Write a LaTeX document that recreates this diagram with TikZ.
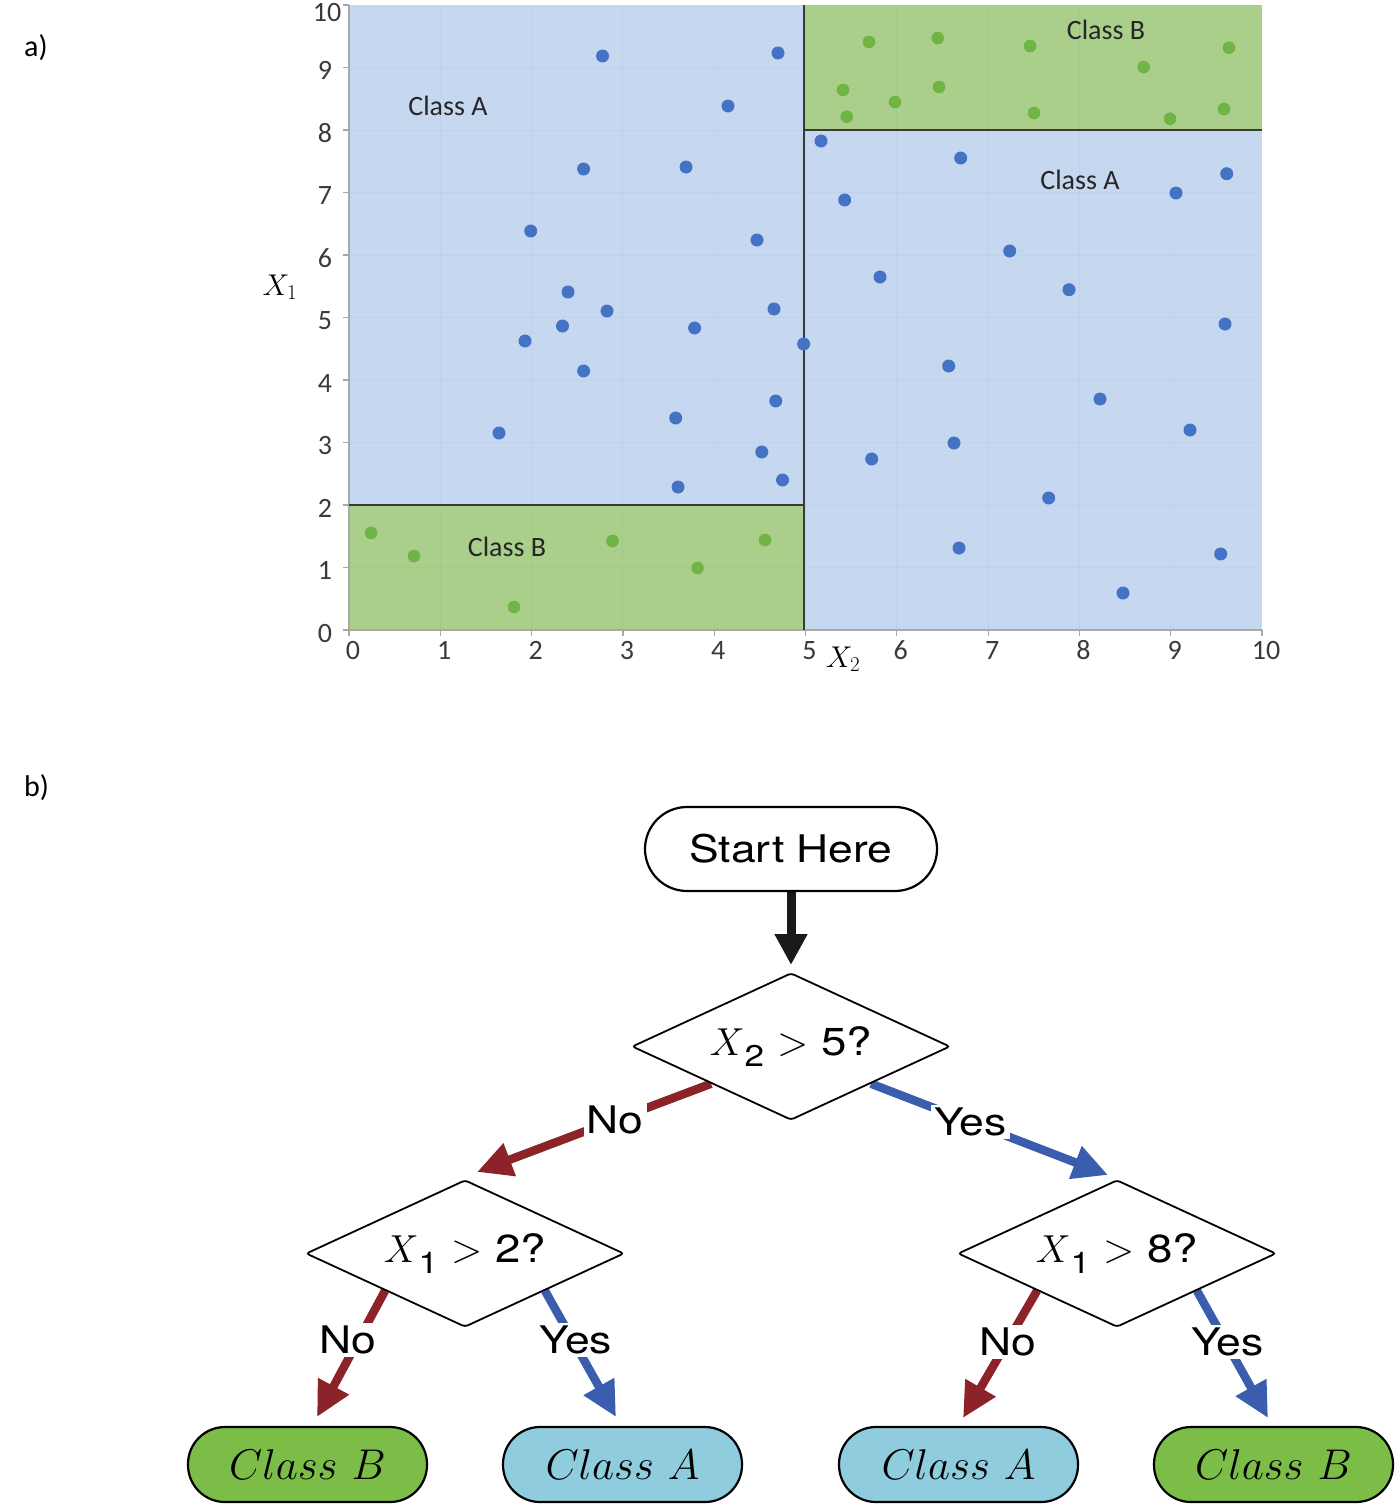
\documentclass[tikz,border=0pt]{standalone}
\usepackage{fix-cm}
\usepackage[no-math]{fontspec}
\setmainfont[FakeStretch=1.17]{TeX Gyre Heros}
\newfontfamily\plotfont{Carlito}
\usetikzlibrary{shapes.geometric,arrows.meta,backgrounds}
\definecolor{bluefill}{HTML}{C5D8EF}
\definecolor{greenfill}{HTML}{A9CF8A}
\definecolor{bluedot}{HTML}{4472C4}
\definecolor{greendot}{HTML}{70B446}
\definecolor{divline}{HTML}{3A3A3A}
\definecolor{axisgray}{HTML}{A8A8A8}
\definecolor{ticktext}{HTML}{3A3A3A}
\definecolor{treered}{HTML}{8B2329}
\definecolor{treeblue}{HTML}{3A5DAE}
\definecolor{leafgreen}{HTML}{7CBD48}
\definecolor{leafblue}{HTML}{8FCCDD}
\newcommand\mysub[1]{\raisebox{-11pt}{\fontsize{30}{32}\selectfont #1}}
\newcommand\mygt{\hspace{13pt}{\fontsize{41}{44}\selectfont$>$}\hspace{13pt}}
\begin{document}
\begin{tikzpicture}[x=1pt,y=-1pt,
  plottext/.style={font=\plotfont\fontsize{28}{32}\selectfont, text=ticktext, inner sep=0pt},
  regiontext/.style={font=\plotfont\fontsize{28}{32}\selectfont, text=black!85, inner sep=0pt},
  paneltext/.style={font=\plotfont\fontsize{30}{34}\selectfont, text=black, inner sep=0pt},
  startbox/.style={draw=black, line width=2.2pt, fill=white, rounded corners=42pt,
     minimum width=292pt, minimum height=84pt, inner sep=0pt,
     font=\fontsize{38}{44}\selectfont},
  dia/.style={shape=diamond, aspect=2.16, draw=black, line width=1.8pt, fill=white,
     minimum width=318pt, minimum height=147pt, inner sep=0pt, rounded corners=3pt,
     font=\fontsize{39}{44}\selectfont},
  leafbox/.style={draw=black, line width=2.2pt, rounded corners=37pt,
     minimum width=239pt, minimum height=75pt, inner sep=0pt,
     font=\fontsize{43}{50}\selectfont},
  leafA/.style={leafbox, fill=leafblue},
  leafB/.style={leafbox, fill=leafgreen},
  elab/.style={fill=white, inner sep=3pt, font=\fontsize{38}{44}\selectfont, text=black},
  redarrow/.style={draw=treered, line width=8.5pt, -{Triangle[length=35pt,width=33pt]}},
  bluearrow/.style={draw=treeblue, line width=8.5pt, -{Triangle[length=35pt,width=33pt]}},
  blackarrow/.style={draw=black!90, line width=9pt, -{Triangle[length=31pt,width=31pt]}}
]
\useasboundingbox (0,0) rectangle (1395,1504);

% ---------------- panel a ----------------
\node[paneltext, anchor=base west] (la) at (24,57) {a)};
\fill[bluefill] (349,5) rectangle (1262,630);
\fill[greenfill] (349,505) rectangle (804,630);
\fill[greenfill] (804,5) rectangle (1262,130);
% faint grid
\foreach \k in {1,...,9} {
  \draw[black, opacity=0.025, line width=1pt] ({349+91.3*\k},5) -- ({349+91.3*\k},630);
  \draw[black, opacity=0.025, line width=1pt] (349,{630-62.5*\k}) -- (1262,{630-62.5*\k});
}
% axes
\draw[axisgray, line width=1.5pt] (349,5) -- (349,630) -- (1262,630);
\foreach \k in {0,...,10} {
  \draw[axisgray, line width=1.2pt] (343,{630-62.5*\k}) -- (349,{630-62.5*\k});
  \draw[axisgray, line width=1.2pt] ({349+91.3*\k},630) -- ({349+91.3*\k},636);
  \node[plottext, anchor=base] at ({349+91.3*\k+4},659) {\k};
}
\foreach \k in {0,...,9} {
  \node[plottext, anchor=base] at (325,{630-62.5*\k+12}) {\k};
}
\node[plottext, anchor=base] at (327,22) {10};
% split lines
\draw[divline, line width=2pt] (804,5) -- (804,630);
\draw[divline, line width=2pt] (349,505) -- (804,505);
\draw[divline, line width=2pt] (804,130) -- (1262,130);
% points
\foreach \x/\y in {602.5/56, 778/53, 728/106, 583.6/169, 686/167, 530.7/231, 757/240,
  568/292, 607/311, 774/309, 562.5/326, 694.6/328, 525/341, 803.6/344, 583.6/371,
  499/433, 675.7/418, 775.7/401, 761.8/452, 678/487, 782.5/480,
  821/141, 960.7/158, 844.7/200, 1176/193, 1226.7/173.7, 1009.7/251, 880/277,
  1069/289.7, 1225/324, 948.7/366, 1100/399, 1190/430, 954/443, 871.7/459,
  1048.7/498, 959/548, 1220.7/554, 1123/593}
  \fill[bluedot] (\x,\y) circle[radius=6.5pt];
\foreach \x/\y in {371/533, 414/556, 514/607, 612.5/541, 697.5/568, 765/540,
  869/42, 937.7/38, 1030/46, 1229/47.7, 1143.7/67, 843/90, 895/102, 939/87,
  846.7/116.7, 1034/113, 1170/118.7, 1224/109}
  \fill[greendot] (\x,\y) circle[radius=6.3pt];
% region labels
\node[regiontext] (ca1) at (448,106) {Class A};
\node[regiontext] (cb1) at (1106,30) {Class B};
\node[regiontext] (ca2) at (1080,180) {Class A};
\node[regiontext] (cb2) at (507,547) {Class B};
% axis labels
\node[inner sep=0pt, font=\fontsize{30}{34}\selectfont] (x1lab) at (280,287) {$X_1$};
\node[inner sep=0pt, font=\fontsize{30}{34}\selectfont] (x2lab) at (843,659) {$X_2$};

% ---------------- panel b ----------------
\node[paneltext, anchor=base west] (lb) at (24,796) {b)};
\node[startbox] (start) at (791,849) {Start Here};
\node[dia] (d1) at (791,1046.5) {$X$\mysub{2}\mygt 5?};
\node[dia] (d2) at (465,1253.5) {$X$\mysub{1}\mygt 2?};
\node[dia] (d3) at (1117,1253.5) {$X$\mysub{1}\mygt 8?};
\node[leafB] (l1) at (307.5,1464.5) {$Class\ B$};
\node[leafA] (l2) at (622.5,1464.5) {$Class\ A$};
\node[leafA] (l3) at (958.5,1464.5) {$Class\ A$};
\node[leafB] (l4) at (1273.5,1464.5) {$Class\ B$};

\coordinate (t0) at (791,965);
\coordinate (t1) at (477,1172);
\coordinate (t2) at (1108,1175);
\coordinate (t3) at (317,1417);
\coordinate (t4) at (616,1417);
\coordinate (t5) at (963,1418);
\coordinate (t6) at (1268,1418);

\begin{pgfonlayer}{background}
\draw[blackarrow] (start.south) -- (t0);
\draw[redarrow] (d1.south west) -- node[elab, pos=0.41] {No} (t1);
\draw[bluearrow] (d1.south east) -- node[elab, pos=0.42] {Yes} (t2);
\draw[redarrow] (d2.south west) -- node[elab, pos=0.39, xshift=-11pt] {No} (t3);
\draw[bluearrow] (d2.south east) -- node[elab, pos=0.39, xshift=3pt] {Yes} (t4);
\draw[redarrow] (d3.south west) -- node[elab, pos=0.40] {No} (t5);
\draw[bluearrow] (d3.south east) -- node[elab, pos=0.40, xshift=2pt] {Yes} (t6);
\end{pgfonlayer}
\end{tikzpicture}
\end{document}
